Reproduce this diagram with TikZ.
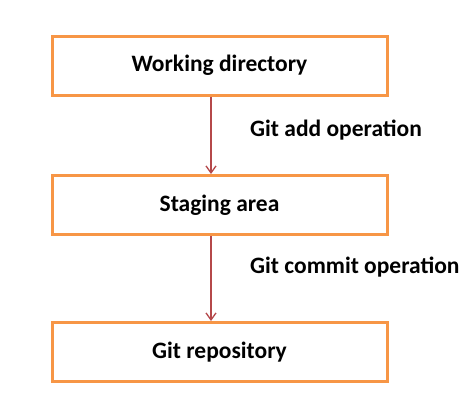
\documentclass[tikz,border=0pt]{standalone}
\usepackage{fontspec}
\setmainfont{Carlito}
\usetikzlibrary{arrows.meta}
\definecolor{boxor}{HTML}{F79646}
\definecolor{arrred}{HTML}{B5484A}
\begin{document}
\begin{tikzpicture}[x=1pt,y=1pt,
  stagebox/.style={draw=boxor, line width=3pt, fill=white, minimum width=335pt, minimum height=59pt, inner sep=0pt, font=\bfseries\fontsize{23.5}{26}\selectfont},
  flow/.style={draw=arrred, line width=1.3pt, -{Straight Barb[length=7pt,width=10pt,line width=1.3pt]}},
  oplabel/.style={anchor=west, inner sep=0pt, font=\bfseries\fontsize{23.5}{26}\selectfont}]
\useasboundingbox[fill=white] (0,-405) rectangle (474,0);
\node[stagebox] (wd) at (219.5,-65.5) {\raisebox{-1.5pt}{Working directory}};
\node[stagebox] (sa) at (219.5,-205) {\raisebox{-1.5pt}{Staging area}};
\node[stagebox] (gr) at (219.5,-352) {\raisebox{-1.5pt}{Git repository}};
\coordinate (ax) at (211,0);
\draw[flow] (ax |- wd.south) -- (ax |- sa.north);
\draw[flow] (ax |- sa.south) -- (ax |- gr.north);
\node[oplabel] (l1) at (250,-130) {Git add operation};
\node[oplabel] (l2) at (250,-267) {Git commit operation};
\end{tikzpicture}
\end{document}
